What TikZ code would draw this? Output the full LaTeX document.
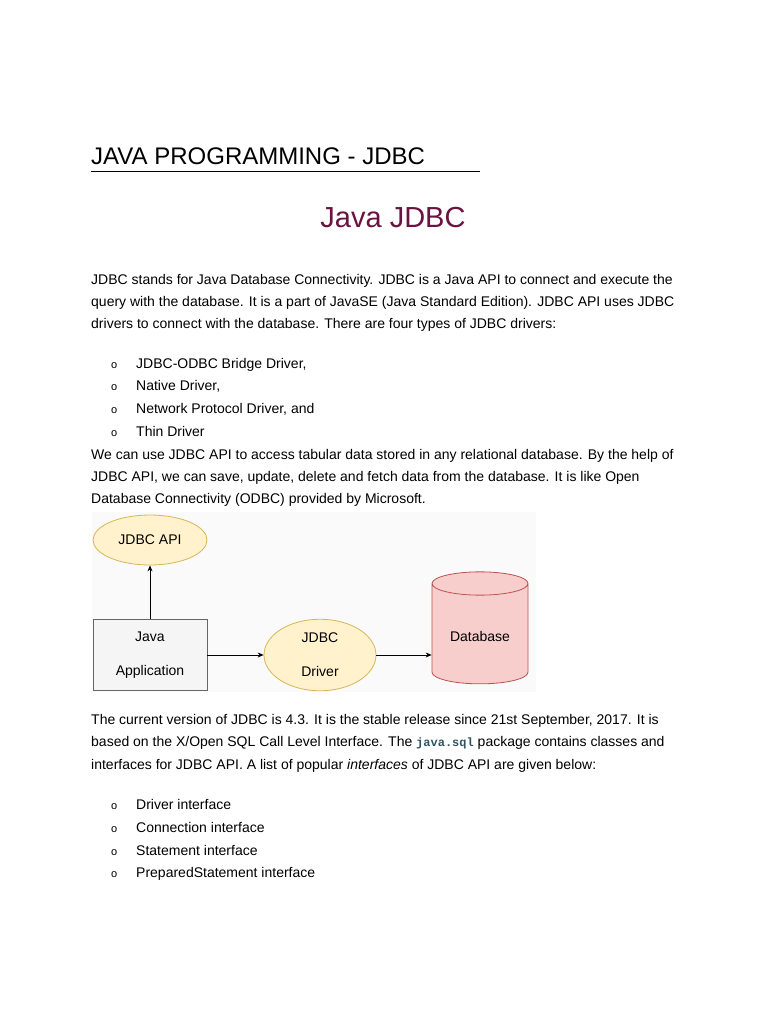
\documentclass[tikz,border=0pt]{standalone}
\usepackage{fontspec}
\setmainfont{Liberation Sans}
\setmonofont{Liberation Mono}
\usetikzlibrary{shapes.geometric,arrows.meta}
\definecolor{titlered}{HTML}{6B1340}
\definecolor{apiyellow}{HTML}{FFF2CC}
\definecolor{apiedge}{HTML}{D6B656}
\definecolor{dbred}{HTML}{F8CECC}
\definecolor{dbedge}{HTML}{B85450}
\definecolor{sqlteal}{HTML}{2F5560}
\tikzset{
  line/.style={anchor=base west,inner sep=0pt,font=\fontsize{14}{16}\selectfont},
  bul/.style={anchor=base west,inner sep=0pt,font=\fontsize{11}{12}\selectfont},
  oval/.style={ellipse,draw=apiedge,fill=apiyellow,line width=0.8pt,font=\fontsize{14}{17}\selectfont,align=center},
  arr/.style={-{Stealth[length=6pt,width=5pt]},line width=0.7pt}
}
\begin{document}
\begin{tikzpicture}[x=1pt,y=-1pt]
            \useasboundingbox[fill=white] (0,0) rectangle (768,1024);

            \node (title) at (91,165) [anchor=base west,inner sep=0pt,font=\fontsize{24}{28}\selectfont] {JAVA PROGRAMMING - JDBC};
            \draw[line width=1pt] (91,172) -- (480,172);
            \node (head) at (393,228) [anchor=base,inner sep=0pt,color=titlered,font=\fontsize{29}{34}\selectfont] {Java JDBC};

            \node (p1) at (91,284) [line] {JDBC stands for Java Database Connectivity. JDBC is a Java API to connect and execute the};
            \node (p2) at (91,306) [line] {query with the database. It is a part of JavaSE (Java Standard Edition). JDBC API uses JDBC};
            \node (p3) at (91,328) [line] {drivers to connect with the database. There are four types of JDBC drivers:};

            \foreach \y/\t in {368/JDBC-ODBC Bridge Driver{,}, 390/Native Driver{,}, 413/Network Protocol Driver{,} and, 436/Thin Driver} {
              \node at (111,\y) [bul] {o};
              \node at (136,\y) [line] {\t};
            }

            \node (q1) at (91,459) [line] {We can use JDBC API to access tabular data stored in any relational database. By the help of};
            \node (q2) at (91,481) [line] {JDBC API, we can save, update, delete and fetch data from the database. It is like Open};
            \node (q3) at (91,503) [line] {Database Connectivity (ODBC) provided by Microsoft.};

            % diagram
            \fill[gray!4] (92,512) rectangle (536,692);
            \node (api) at (150,540) [oval,minimum width=114pt,minimum height=50pt] {JDBC API};
            \node (app) at (150,655) [draw=black!60,fill=black!4,line width=0.8pt,minimum width=114pt,minimum height=71pt,align=center,font=\fontsize{14}{34}\selectfont] {Java\\Application};
            \node (drv) at (320,655) [oval,minimum width=112pt,minimum height=70pt,font=\fontsize{14}{34}\selectfont] {JDBC\\Driver};
            \node (db) at (480,636) [cylinder,shape border rotate=90,aspect=0.35,draw=dbedge,fill=dbred,line width=0.8pt,minimum width=96pt,minimum height=112pt,font=\fontsize{14}{17}\selectfont,text depth=-22pt] {Database};
            \draw[arr] (app.north) -- (api.south);
            \draw[arr] (app.east) -- (drv.west);
            \draw[arr] (drv.east) -- (db.west |- drv.east);

            \node (r1) at (91,724) [line] {The current version of JDBC is 4.3. It is the stable release since 21st September, 2017. It is};
            \node (r2) at (91,746) [line] {based on the X/Open SQL Call Level Interface. The {\color{sqlteal}\fontsize{12}{14}\selectfont\ttfamily\bfseries java.sql} package contains classes and};
            \node (r3) at (91,769) [line] {interfaces for JDBC API. A list of popular \textit{interfaces} of JDBC API are given below:};

            \foreach \y/\t in {809/Driver interface, 832/Connection interface, 855/Statement interface, 877/PreparedStatement interface} {
              \node at (111,\y) [bul] {o};
              \node at (136,\y) [line] {\t};
            }
        \end{tikzpicture}
\end{document}
